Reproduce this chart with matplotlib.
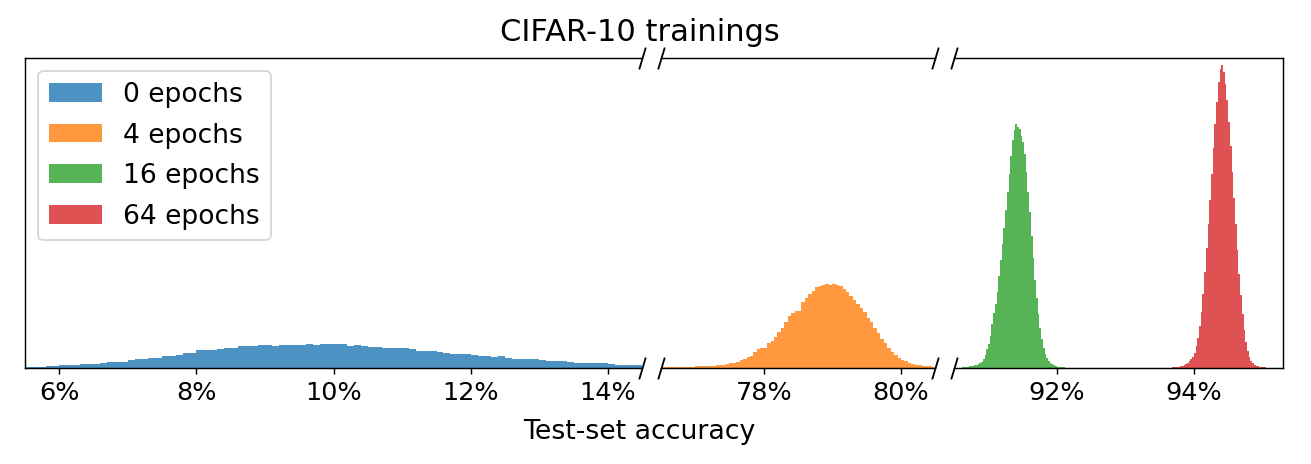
import numpy as np
import matplotlib
matplotlib.use("Agg")
import matplotlib.pyplot as plt
from matplotlib.patches import Patch

plt.rcParams['font.size'] = 14

labels = ["0 epochs", "4 epochs", "16 epochs", "64 epochs"]
colors = ["tab:blue", "tab:orange", "tab:green", "tab:red"]

# histogram heights: first bin edge, bin width, heights
start_0ep, width_0ep = 5.5, 0.1
counts_0ep = [1.0, 1.1, 1.0, 2.2, 2.4,
              2.8, 2.7, 3.0, 3.8, 4.3,
              4.4, 5.2, 5.5, 6.3, 6.4,
              7.7, 8.6, 8.8, 9.5, 10.3,
              11.8, 12.3, 13.1, 14.8, 15.2,
              18.3, 17.9, 17.6, 19.4, 19.8,
              20.1, 21.5, 21.7, 22.0, 22.6,
              22.8, 22.4, 22.9, 23.3, 23.1,
              23.4, 23.6, 23.2, 23.5, 23.8,
              23.6, 23.7, 22.4, 22.6, 22.1,
              21.2, 20.6, 20.3, 20.4, 19.8,
              19.6, 19.0, 17.3, 17.1, 16.8,
              15.5, 14.6, 14.4, 14.2, 14.0,
              13.2, 11.8, 11.9, 11.4, 11.6,
              9.8, 9.2, 9.0, 8.8, 8.7,
              7.6, 7.1, 7.0, 6.6, 5.8,
              5.2, 5.0, 4.9, 5.1, 4.8,
              4.2, 2.9, 2.7, 2.6, 2.5]

start_4ep, width_4ep = 76.5, 0.05
counts_4ep = [1.1, 1.1, 1.1, 1.1, 1.2, 1.2, 1.2, 1.2, 1.3, 1.4,
              1.5, 1.6, 1.7, 1.8, 2.0, 2.4, 2.7, 2.9, 3.1, 3.6,
              4.8, 5.0, 6.0, 8.3, 9.0, 11.0, 12.0, 16.0, 19.0, 19.5,
              20.0, 25.0, 27.0, 31.0, 36.0, 40.0, 46.0, 52.0, 55.0, 56.5,
              57.0, 66.0, 70.0, 74.0, 77.0, 81.0, 82.0, 83.0, 84.0, 83.0,
              83.5, 83.0, 82.0, 79.0, 76.0, 72.0, 68.0, 64.0, 60.0, 56.0,
              50.0, 46.0, 40.0, 35.0, 29.0, 25.0, 20.0, 16.0, 13.0, 10.0,
              8.0, 6.5, 5.0, 4.2, 3.3, 2.8, 2.2, 1.8, 1.5, 1.3]

start_16ep, width_16ep = 90.6, 0.025
counts_16ep = [0.3, 0.5, 0.7, 1.0, 1.2, 1.5, 1.8, 2.2,
               2.5, 3.0, 3.5, 4.5, 6.0, 9.0, 13.0, 19.0,
               24.0, 32.0, 44.0, 55.0, 64.0, 76.0, 92.0, 108.0,
               124.0, 140.0, 158.0, 176.0, 194.0, 212.0, 228.0, 238.0,
               244.0, 241.0, 239.0, 232.0, 226.0, 214.0, 196.0, 176.0,
               156.0, 132.0, 110.0, 88.0, 70.0, 54.0, 40.0, 29.0,
               20.0, 14.0, 10.0, 7.0, 5.0, 3.5, 2.5, 1.8,
               1.3, 1.0, 0.8, 0.6, 0.5, 0.4, 0.3, 0.2]

start_64ep, width_64ep = 93.6, 0.025
counts_64ep = [0.2, 0.3, 0.4, 0.5, 0.7, 0.9, 1.1, 1.4,
               1.8, 2.3, 3.0, 3.8, 5.0, 6.5, 8.5, 11.0,
               15.0, 22.0, 30.0, 42.0, 56.0, 74.0, 96.0, 120.0,
               144.0, 168.0, 194.0, 220.0, 244.0, 266.0, 286.0, 299.0,
               303.0, 296.0, 284.0, 268.0, 246.0, 222.0, 196.0, 170.0,
               144.0, 118.0, 94.0, 73.0, 54.0, 38.0, 26.0, 17.0,
               11.0, 7.0, 4.5, 3.0, 2.0, 1.5, 1.1, 0.8,
               0.6, 0.5, 0.3, 0.2]

panel_limits = [(5.5, 14.5), (76.5, 80.5), (90.5, 95.3)]
panel_ticks = [[6, 8, 10, 12, 14], [78, 80], [92, 94]]
panel_ticklabels = [["6%", "8%", "10%", "12%", "14%"], ["78%", "80%"], ["92%", "94%"]]

series = [
    (0, start_0ep, width_0ep, counts_0ep),
    (1, start_4ep, width_4ep, counts_4ep),
    (2, start_16ep, width_16ep, counts_16ep),
    (2, start_64ep, width_64ep, counts_64ep),
]

fig = plt.figure(figsize=(10, 3.54), dpi=131.1)
gs = fig.add_gridspec(1, 3, width_ratios=[lim[1] - lim[0] for lim in panel_limits],
                      left=25/1311, right=1283/1311, bottom=1 - 368/464, top=1 - 58/464,
                      wspace=0.0455)
axes = [fig.add_subplot(gs[0, i]) for i in range(3)]

for i, (p, start, width, counts) in enumerate(series):
    counts = np.asarray(counts)
    edges = start + width * np.arange(len(counts) + 1)
    axes[p].stairs(counts, edges, fill=True, color=colors[i], alpha=0.8, linewidth=0)

for ax, lim, ticks, tl in zip(axes, panel_limits, panel_ticks, panel_ticklabels):
    ax.set_xlim(*lim)
    ax.set_ylim(0, 310)
    ax.set_xticks(ticks)
    ax.set_xticklabels(tl)
    ax.set_yticks([])

axes[0].spines['right'].set_visible(False)
axes[1].spines['left'].set_visible(False)
axes[1].spines['right'].set_visible(False)
axes[2].spines['left'].set_visible(False)

# break marks
d = 0.3
kw = dict(marker=[(-d, -1), (d, 1)], markersize=12, linestyle='none',
          color='k', mec='k', mew=1, clip_on=False)
axes[0].plot([1, 1], [0, 1], transform=axes[0].transAxes, **kw)
axes[1].plot([0, 0, 1, 1], [0, 1, 0, 1], transform=axes[1].transAxes, **kw)
axes[2].plot([0, 0], [0, 1], transform=axes[2].transAxes, **kw)

handles = [Patch(facecolor=c, alpha=0.8, label=l) for c, l in zip(colors, labels)]
axes[0].legend(handles=handles, loc='upper left', fontsize=14.6, labelspacing=0.55)

fig.suptitle("CIFAR-10 trainings", x=0.488, y=0.931, va='center', fontsize='large')
fig.supxlabel("Test-set accuracy", x=0.488, y=0.069, va='center', fontsize=14.7)

fig.savefig("out.png", dpi=131.1)
